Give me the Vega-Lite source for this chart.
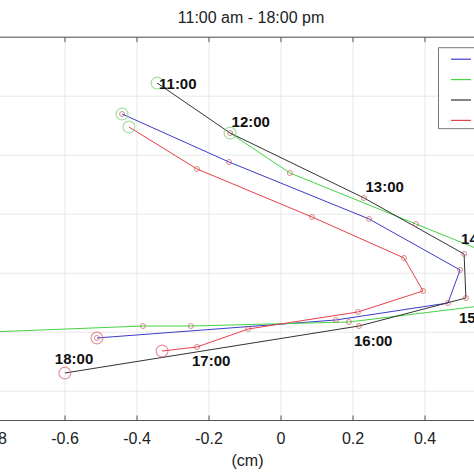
{
  "$schema": "https://vega.github.io/schema/vega-lite/v6.json",
  "width": 504,
  "height": 383.3,
  "autosize": {"type": "none"},
  "padding": {"left": -7.5, "top": 36.7, "right": 0, "bottom": 54},
  "background": "white",
  "title": {"text": "11:00 am - 18:00 pm", "fontSize": 16, "font": "Liberation Sans", "fontWeight": "normal", "color": "#222", "offset": 10, "dx": 6.5, "frame": "group"},
  "config": {
    "view": {"stroke": null},
    "font": "Liberation Sans",
    "legend": {"orient": "none", "legendX": 445.5, "legendY": 10.5, "strokeColor": "#777", "fillColor": "white", "padding": 1, "symbolOffset": 11, "symbolType": "stroke", "symbolSize": 400, "symbolStrokeWidth": 1.2, "labelFontSize": 12, "labelFont": "Liberation Sans", "rowPadding": 3.4, "title": null}
  },
  "data": {"values": [
    {"s": "P1", "i": 0, "x": -0.440, "y": 5.689, "role": "start"},
    {"s": "P1", "i": 1, "x": -0.143, "y": 4.875, "role": "mid"},
    {"s": "P1", "i": 2, "x": 0.246, "y": 3.909, "role": "mid"},
    {"s": "P1", "i": 3, "x": 0.499, "y": 3.044, "role": "mid"},
    {"s": "P1", "i": 4, "x": 0.465, "y": 2.484, "role": "mid"},
    {"s": "P1", "i": 5, "x": 0.154, "y": 2.196, "role": "mid"},
    {"s": "P1", "i": 6, "x": -0.510, "y": 1.891, "role": "end"},
    {"s": "P2", "i": 0, "x": -0.140, "y": 5.367, "role": "start"},
    {"s": "P2", "i": 1, "x": 0.026, "y": 4.689, "role": "mid"},
    {"s": "P2", "i": 2, "x": 0.376, "y": 3.824, "role": "mid"},
    {"s": "P2", "i": 3, "x": 0.610, "y": 3.248, "role": "mid"},
    {"s": "P2", "i": 4, "x": 0.624, "y": 2.484, "role": "mid"},
    {"s": "P2", "i": 5, "x": 0.190, "y": 2.162, "role": "mid"},
    {"s": "P2", "i": 6, "x": -0.249, "y": 2.094, "role": "mid"},
    {"s": "P2", "i": 7, "x": -0.382, "y": 2.094, "role": "mid"},
    {"s": "P2", "i": 8, "x": -0.946, "y": 1.959, "role": "end"},
    {"s": "P3", "i": 0, "x": -0.343, "y": 6.215, "role": "start", "label": "11:00"},
    {"s": "P3", "i": 1, "x": -0.140, "y": 5.367, "role": "mid", "label": "12:00"},
    {"s": "P3", "i": 2, "x": 0.232, "y": 4.265, "role": "mid", "label": "13:00"},
    {"s": "P3", "i": 3, "x": 0.510, "y": 3.315, "role": "mid", "label": "14:00"},
    {"s": "P3", "i": 4, "x": 0.515, "y": 2.569, "role": "mid", "label": "15:00"},
    {"s": "P3", "i": 5, "x": 0.218, "y": 2.094, "role": "mid", "label": "16:00"},
    {"s": "P3", "i": 6, "x": -0.599, "y": 1.297, "role": "end", "label": "18:00"},
    {"s": "P4", "i": 0, "x": -0.421, "y": 5.469, "role": "start"},
    {"s": "P4", "i": 1, "x": -0.232, "y": 4.757, "role": "mid"},
    {"s": "P4", "i": 2, "x": 0.0875, "y": 3.943, "role": "mid"},
    {"s": "P4", "i": 3, "x": 0.343, "y": 3.248, "role": "mid"},
    {"s": "P4", "i": 4, "x": 0.396, "y": 2.688, "role": "mid"},
    {"s": "P4", "i": 5, "x": 0.215, "y": 2.332, "role": "mid"},
    {"s": "P4", "i": 6, "x": -0.090, "y": 2.043, "role": "mid"},
    {"s": "P4", "i": 7, "x": -0.232, "y": 1.738, "role": "mid", "label": "17:00"},
    {"s": "P4", "i": 8, "x": -0.329, "y": 1.670, "role": "end"}
  ]},
  "encoding": {
    "y": {"field": "y", "type": "quantitative", "scale": {"domain": [0.5, 7], "nice": false, "zero": false},
      "axis": {"values": [1, 2, 3, 4, 5, 6, 7], "labels": false, "ticks": false, "domain": false, "grid": true, "gridColor": "#e8e8e8", "gridWidth": 1, "title": null}}
  },
  "layer": [
    {
      "mark": {"type": "line", "clip": true, "strokeWidth": 1},
      "encoding": {
        "x": {"field": "x", "type": "quantitative", "scale": {"domain": [-0.8, 0.6], "nice": false, "zero": false},
          "axis": {"orient": "bottom", "values": [-0.8, -0.6, -0.4, -0.2, 0, 0.2, 0.4, 0.6], "labelExpr": "'' + datum.value", "grid": true, "gridColor": "#e8e8e8", "domainColor": "#555", "tickColor": "#555", "tickSize": -5, "labelPadding": 23, "labelBaseline": "middle", "labelFontSize": 16, "labelColor": "#222", "labelFlush": false, "labelOverlap": false, "title": "(cm)", "titleFontSize": 16, "titleFontWeight": "normal", "titleColor": "#222", "titleX": 254.5, "titleY": 40, "titleBaseline": "middle"}},
        "color": {"field": "s", "type": "nominal", "scale": {"domain": ["P1", "P2", "P3", "P4"], "range": ["#3c3cc8", "#44d444", "#333333", "#e8404c"]}},
        "order": {"field": "i", "type": "quantitative"}
      }
    },
    {
      "transform": [{"filter": "datum.role == 'mid' || datum.s == 'P1'"}],
      "mark": {"type": "point", "clip": true, "filled": false, "stroke": "#cc5a5a", "size": 25, "strokeWidth": 1},
      "encoding": {
        "x": {"field": "x", "type": "quantitative",
          "axis": {"orient": "top", "values": [-0.8, -0.6, -0.4, -0.2, 0, 0.2, 0.4, 0.6], "labels": false, "grid": false, "domainColor": "#555", "tickColor": "#555", "tickSize": -5, "title": null}}
      }
    },
    {
      "transform": [{"filter": "datum.role == 'start'"}],
      "mark": {"type": "point", "clip": true, "filled": false, "stroke": "#7fd67f", "size": 140, "strokeWidth": 1.2},
      "encoding": {"x": {"field": "x", "type": "quantitative", "axis": null}}
    },
    {
      "transform": [{"filter": "datum.role == 'end'"}],
      "mark": {"type": "point", "clip": true, "filled": false, "stroke": "#e06878", "size": 140, "strokeWidth": 1.2},
      "encoding": {"x": {"field": "x", "type": "quantitative", "axis": null}}
    },
    {
      "transform": [{"filter": "datum.label == '11:00'"}],
      "mark": {"type": "text", "align": "left", "baseline": "middle", "dx": 2, "dy": 1, "fontSize": 15, "fontWeight": "bold", "color": "#111"},
      "encoding": {"x": {"field": "x", "type": "quantitative", "axis": null}, "text": {"field": "label"}}
    },
    {
      "transform": [{"filter": {"field": "label", "oneOf": ["12:00", "13:00"]}}],
      "mark": {"type": "text", "align": "left", "baseline": "middle", "dx": 1.5, "dy": -11, "fontSize": 15, "fontWeight": "bold", "color": "#111"},
      "encoding": {"x": {"field": "x", "type": "quantitative", "axis": null}, "text": {"field": "label"}}
    },
    {
      "transform": [{"filter": "datum.label == '14:00'"}],
      "mark": {"type": "text", "align": "left", "baseline": "middle", "dx": -3, "dy": -15, "fontSize": 15, "fontWeight": "bold", "color": "#111"},
      "encoding": {"x": {"field": "x", "type": "quantitative", "axis": null}, "text": {"field": "label"}}
    },
    {
      "transform": [{"filter": "datum.label == '15:00'"}],
      "mark": {"type": "text", "align": "left", "baseline": "middle", "dx": -7, "dy": 20, "fontSize": 15, "fontWeight": "bold", "color": "#111"},
      "encoding": {"x": {"field": "x", "type": "quantitative", "axis": null}, "text": {"field": "label"}}
    },
    {
      "transform": [{"filter": {"field": "label", "oneOf": ["16:00", "17:00"]}}],
      "mark": {"type": "text", "align": "left", "baseline": "middle", "dx": -5, "dy": 14.5, "fontSize": 15, "fontWeight": "bold", "color": "#111"},
      "encoding": {"x": {"field": "x", "type": "quantitative", "axis": null}, "text": {"field": "label"}}
    },
    {
      "transform": [{"filter": "datum.label == '18:00'"}],
      "mark": {"type": "text", "align": "left", "baseline": "middle", "dx": -10, "dy": -14, "fontSize": 15, "fontWeight": "bold", "color": "#111"},
      "encoding": {"x": {"field": "x", "type": "quantitative", "axis": null}, "text": {"field": "label"}}
    }
  ],
  "resolve": {"axis": {"x": "independent"}}
}
